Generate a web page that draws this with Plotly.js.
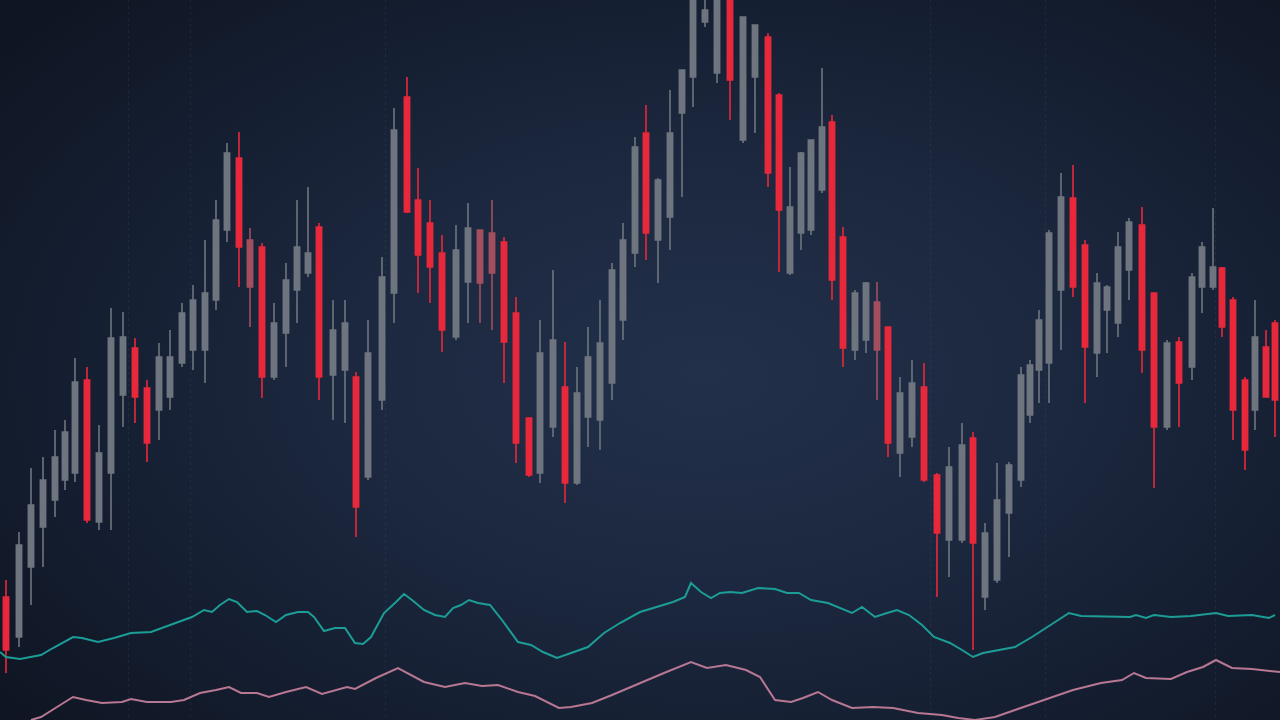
<!DOCTYPE html>
<html>
<head>
<meta charset="utf-8">
<script src="https://cdn.plot.ly/plotly-3.0.1.min.js"></script>
<style>
  html, body { margin: 0; padding: 0; width: 1280px; height: 720px; overflow: hidden; background: #121a2a; }
  #chart {
    width: 1280px; height: 720px;
    background: radial-gradient(ellipse 70% 75% at 55% 52%, #22304a 0%, #1c283f 40%, #141d2f 75%, #0f1522 100%);
  }
</style>
</head>
<body>
<div id="chart"></div>
<script>
// Time positions of each candle
const t = [6,19,31,43,55,65,75,87,99,111,123,135,147,159,170,182,193,205,216,227,
  239,250,262,274,286,297,308,319,333,345,356,368,382,394,407,418,430,442,456,468,
  480,492,504,516,529,540,553,565,577,588,600,612,623,635,646,658,670,682,693,705,
  717,730,743,755,768,779,790,801,811,822,832,843,855,866,877,888,900,912,924,937,
  949,962,973,985,997,1009,1021,1030,1039,1049,1061,1073,1085,1097,1107,1118,1129,1142,1154,1167,
  1179,1192,1202,1213,1222,1233,1245,1255,1266,1275];

const open = [123,83,153,193,220,240,247,340,198,247,325,372,332,310,323,357,370,370,420,490,
  562,480,473,343,387,430,447,493,345,350,343,243,320,427,623,520,497,467,383,438,
  490,487,478,407,302,247,293,333,237,303,300,337,400,467,587,480,503,607,643,698,
  647,725,580,643,683,625,447,487,490,530,598,483,370,380,418,393,267,283,333,245,
  180,180,282,123,140,207,240,305,350,357,430,522,475,367,410,397,450,495,427,293,
  378,353,433,433,452,420,340,310,373,397];

const high = [140,188,252,263,290,300,362,353,295,412,408,382,340,377,390,417,435,480,520,577,
  588,492,477,417,457,520,533,497,420,420,348,400,463,612,643,552,520,485,495,517,
  490,520,483,423,302,400,450,378,353,393,420,457,497,583,615,542,630,650,730,725,
  730,730,703,695,687,627,553,568,580,652,605,493,430,438,438,393,343,360,357,247,
  273,297,288,197,257,258,353,360,410,490,547,555,480,447,435,488,502,513,427,380,
  383,447,478,512,453,423,343,420,390,400];

const low = [47,73,115,153,203,230,238,197,190,190,293,297,258,280,310,353,350,337,410,478,
  433,393,322,340,353,397,443,320,300,297,183,240,310,397,507,427,417,368,380,397,
  397,390,337,257,243,237,283,217,235,273,270,320,380,453,460,437,470,523,613,693,
  637,600,577,587,533,448,445,470,485,527,420,353,360,367,320,263,243,273,238,123,
  143,177,70,110,137,163,233,297,317,317,370,423,317,343,367,383,420,347,232,290,
  293,340,407,430,383,280,250,290,323,283];

const close = [70,175,215,240,263,288,338,200,267,382,383,323,277,363,363,407,420,427,500,567,
  473,433,343,397,440,473,467,343,390,397,213,367,443,590,508,465,453,390,470,492,
  437,447,378,277,245,367,380,237,327,363,377,450,480,573,487,540,587,650,725,710,
  725,640,703,695,547,510,513,567,580,593,440,372,427,437,370,277,327,337,240,187,
  253,275,177,187,220,255,345,355,400,487,523,433,373,437,433,473,498,370,293,377,
  337,443,473,453,393,310,270,383,323,320];

// candles drawn in a muted tone
const mutedIdx = [21, 40, 41, 74];

// Indicator lines
const tealX = [0,6,20,41,53,73,82,98,114,131,151,171,192,204,212,220,229,237,247,257,
  265,276,286,298,308,314,324,335,345,355,363,371,384,396,404,412,424,435,445,453,
  461,469,478,490,502,518,531,543,557,571,588,604,620,640,
  656,673,685,691,701,711,720,730,742,758,775,787,799,811,828,840,852,862,875,887,
  897,909,922,934,950,962,973,983,999,1015,1032,1048,1069,1081,1109,1130,1136,1146,1154,1171,
  1191,1216,1228,1252,1269,1275];
const tealY = [68,63,61,65,72,83,82,78,82,87,88,95,103,110,108,115,121,118,108,109,
  105,98,105,108,108,103,89,92,92,77,76,83,107,118,126,120,110,105,103,112,
  115,120,117,115,100,78,75,68,62,67,73,87,97,108,
  113,118,123,137,128,122,127,128,127,132,131,127,127,120,117,112,107,113,103,107,
  110,105,95,83,77,70,63,67,70,73,83,93,107,104,103,103,105,102,105,103,
  104,107,104,105,102,105];

const pinkX = [31,41,57,73,86,102,122,131,147,171,184,200,216,229,241,257,269,286,306,322,
  347,355,376,398,424,445,465,482,498,518,535,547,559,571,592,612,640,
  664,691,707,726,746,760,775,791,803,818,832,852,873,893,918,942,958,975,995,1015,
  1044,1073,1101,1122,1134,1146,1171,1187,1203,1216,1232,1252,1280];
const pinkY = [0,3,13,23,20,17,18,21,18,18,20,27,30,33,27,27,23,28,33,26,
  33,31,42,52,38,33,37,34,35,28,24,18,12,13,17,25,37,
  47,58,52,55,50,43,20,18,22,28,20,12,13,12,7,5,2,0,3,10,
  20,30,37,40,47,42,41,48,53,60,52,51,48];

const gridX = [128, 190, 385, 930, 1045, 1215];

// ---- build traces ----
function pick(arr, keep) { return arr.filter((_, i) => keep(i)); }
const isMuted = i => mutedIdx.includes(i);
const notMuted = i => !mutedIdx.includes(i);

const RED = '#e8283b', GRAY = '#6f757f', MUTED = '#a34f5f';

const mainCandles = {
  type: 'candlestick',
  x: pick(t, notMuted), open: pick(open, notMuted), high: pick(high, notMuted),
  low: pick(low, notMuted), close: pick(close, notMuted),
  increasing: { line: { color: GRAY, width: 1.6 }, fillcolor: GRAY },
  decreasing: { line: { color: RED, width: 1.6 }, fillcolor: RED },
  whiskerwidth: 0, showlegend: false, hoverinfo: 'skip'
};
const mutedCandles = {
  type: 'candlestick',
  x: pick(t, isMuted), open: pick(open, isMuted), high: pick(high, isMuted),
  low: pick(low, isMuted), close: pick(close, isMuted),
  increasing: { line: { color: GRAY, width: 1.6 }, fillcolor: GRAY },
  decreasing: { line: { color: MUTED, width: 1.6 }, fillcolor: MUTED },
  whiskerwidth: 0, showlegend: false, hoverinfo: 'skip'
};
const teal = {
  type: 'scatter', mode: 'lines', x: tealX, y: tealY,
  line: { color: '#1c9d96', width: 2 }, showlegend: false, hoverinfo: 'skip'
};
const pink = {
  type: 'scatter', mode: 'lines', x: pinkX, y: pinkY,
  line: { color: '#b87792', width: 2 }, showlegend: false, hoverinfo: 'skip'
};

const layout = {
  width: 1280, height: 720,
  margin: { l: 0, r: 0, t: 0, b: 0, pad: 0 },
  paper_bgcolor: 'rgba(0,0,0,0)', plot_bgcolor: 'rgba(0,0,0,0)',
  showlegend: false,
  boxgap: 0.35, boxgroupgap: 0.1,
  xaxis: {
    range: [0, 1280], showticklabels: false, ticks: '', zeroline: false, showline: false,
    tickmode: 'array', tickvals: gridX, showgrid: true,
    gridcolor: 'rgba(180,190,210,0.07)', griddash: 'dot', gridwidth: 1,
    rangeslider: { visible: false }, fixedrange: true
  },
  yaxis: {
    range: [0, 720], showticklabels: false, ticks: '', zeroline: false, showline: false,
    showgrid: false, fixedrange: true
  }
};

Plotly.newPlot('chart', [teal, pink, mainCandles, mutedCandles], layout, { staticPlot: true, displayModeBar: false });
</script>
</body>
</html>
